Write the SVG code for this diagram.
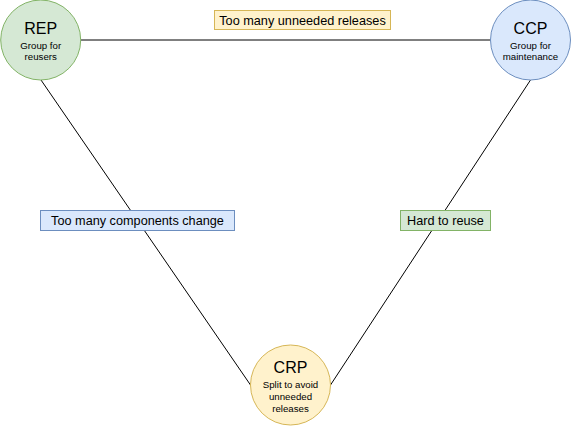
<svg xmlns="http://www.w3.org/2000/svg" width="571" height="426" viewBox="0 0 571 426">
<style>
.bg{fill:#ffffff}
.edge{stroke:#000000;stroke-width:1;fill:none}
.t{font-family:"Liberation Sans",Arial,sans-serif;fill:#000000;text-anchor:middle}
.title{font-size:16px}
.sub{font-size:9.7px}
.lbl{font-size:12.7px}
.green{fill:#d5e8d4;stroke:#82b366}
.blue{fill:#dae8fc;stroke:#6c8ebf}
.yellow{fill:#fff2cc;stroke:#d6b656}
</style>
<rect class="bg" x="0" y="0" width="571" height="426"/>
<g id="connectors">
<line class="edge" x1="81" y1="40" x2="490.5" y2="40"/>
<line class="edge" x1="41" y1="80" x2="250.5" y2="385"/>
<line class="edge" x1="530.5" y1="80" x2="330.5" y2="385"/>
</g>
<g id="REP">
<circle class="green" cx="40.7" cy="40" r="40"/>
<text class="t title" x="40.7" y="33.5">REP</text>
<text class="t sub" x="40.7" y="49">Group for</text>
<text class="t sub" x="40.7" y="60">reusers</text>
</g>
<g id="CCP">
<circle class="blue" cx="530.5" cy="40" r="40"/>
<text class="t title" x="530.5" y="33.5">CCP</text>
<text class="t sub" x="530.5" y="49">Group for</text>
<text class="t sub" x="530.5" y="60">maintenance</text>
</g>
<g id="CRP">
<circle class="yellow" cx="290.5" cy="385" r="40"/>
<text class="t title" x="290.5" y="372.5">CRP</text>
<text class="t sub" x="290.5" y="388">Split to avoid</text>
<text class="t sub" x="290.5" y="400">unneeded</text>
<text class="t sub" x="290.5" y="412">releases</text>
</g>
<g id="label-top">
<rect class="yellow" x="214.5" y="10.5" width="176" height="19"/>
<text class="t lbl" x="302.5" y="24.5">Too many unneeded releases</text>
</g>
<g id="label-left">
<rect class="blue" x="40.5" y="210.5" width="194" height="20"/>
<text class="t lbl" x="137.5" y="225">Too many components change</text>
</g>
<g id="label-right">
<rect class="green" x="400.5" y="210.5" width="90" height="20"/>
<text class="t lbl" x="445.5" y="225">Hard to reuse</text>
</g>
</svg>
